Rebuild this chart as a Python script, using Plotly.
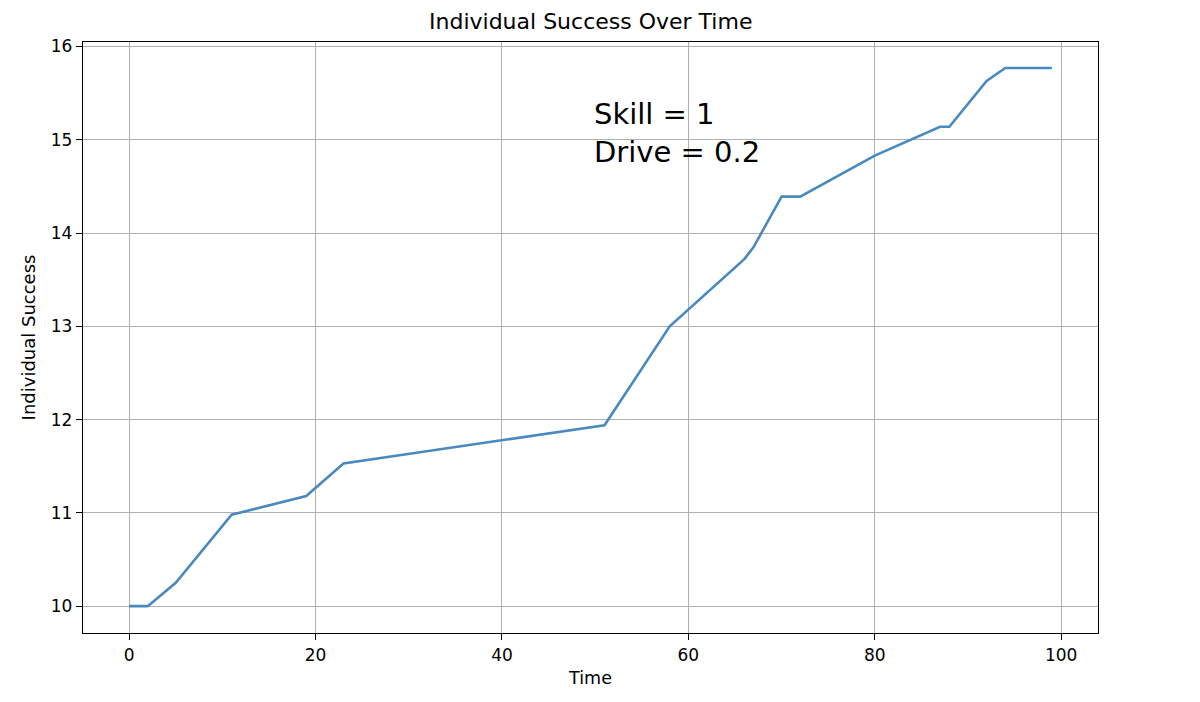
import plotly.graph_objects as go

time = [0, 2, 5, 11, 19, 23, 51, 58, 66, 67, 70, 72, 80, 87, 88, 92, 94, 99]
success = [10.0, 10.0, 10.25, 10.98, 11.18, 11.53, 11.94, 13.0, 13.72, 13.85,
           14.39, 14.39, 14.83, 15.14, 15.14, 15.63, 15.77, 15.77]
x_ticks = [0, 20, 40, 60, 80, 100]
y_ticks = [10, 11, 12, 13, 14, 15, 16]
title = "Individual Success Over Time"
x_label = "Time"
y_label = "Individual Success"
note = "Skill = 1<br>Drive = 0.2"

FONT = "DejaVu Sans"

fig = go.Figure()
fig.add_trace(go.Scatter(x=time, y=success, mode="lines",
                         line=dict(color="rgb(74,137,192)", width=2.6),
                         showlegend=False, hoverinfo="skip"))

axis_common = dict(showline=True, linecolor="black", linewidth=1.4, mirror=True,
                   showgrid=True, gridcolor="#b0b0b0", gridwidth=1.3,
                   zeroline=False, ticks="outside", ticklen=6, tickwidth=1.4,
                   tickcolor="black", tickfont=dict(family=FONT, size=17, color="black"))

fig.update_xaxes(range=[-4.95, 103.95], tickvals=x_ticks,
                 title=dict(text=x_label, font=dict(family=FONT, size=17.5, color="black"), standoff=8),
                 **axis_common)
fig.update_yaxes(range=[9.712, 16.048], tickvals=y_ticks,
                 title=dict(text=y_label, font=dict(family=FONT, size=18, color="black"), standoff=10),
                 **axis_common)

fig.add_annotation(x=0.5, y=1, xref="paper", yref="paper", xanchor="center", yanchor="bottom",
                   text=title, showarrow=False, yshift=6,
                   font=dict(family=FONT, size=22, color="black"))
fig.add_annotation(x=50, y=14.75, xref="x", yref="y", xanchor="left", yanchor="bottom",
                   text=note, showarrow=False, align="left", xshift=-3, yshift=-8,
                   font=dict(family=FONT, size=29, color="black"))

fig.update_layout(width=1200, height=702, margin=dict(l=83, r=102, t=42, b=69),
                  paper_bgcolor="white", plot_bgcolor="white",
                  font=dict(family=FONT, color="black"))

fig.write_html("out.html")
